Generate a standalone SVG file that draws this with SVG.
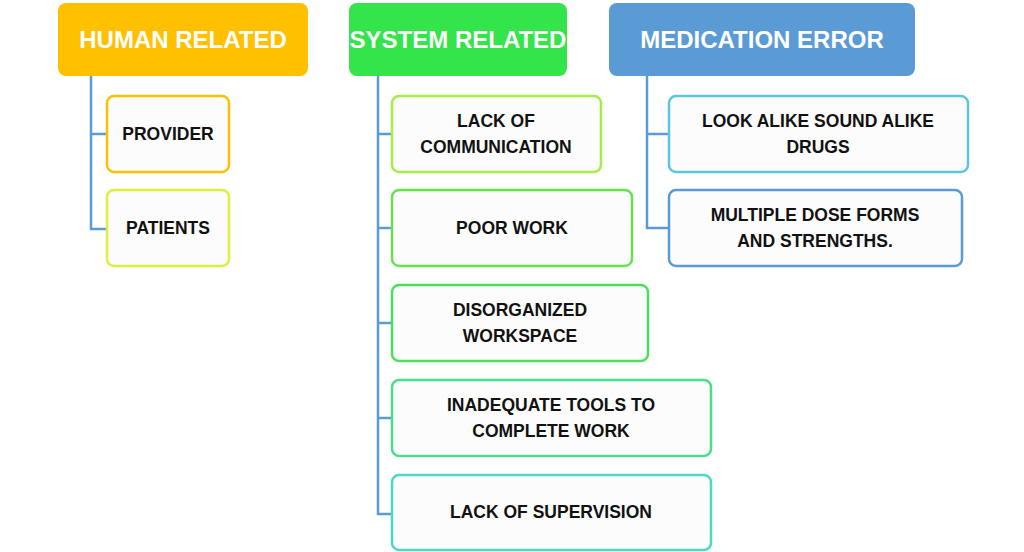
<svg xmlns="http://www.w3.org/2000/svg" width="1024" height="552" viewBox="0 0 1024 552">
<style>
.h{font-family:"Liberation Sans",Arial,sans-serif;font-weight:bold;font-size:24px;fill:#fff;text-anchor:middle}
.t{font-family:"Liberation Sans",Arial,sans-serif;font-weight:bold;font-size:17.5px;fill:#111;text-anchor:middle}
.b{fill:#fcfcfc;stroke-width:2.5}
.c{fill:none;stroke:#5B9BD5;stroke-width:2.5}
</style>
<rect width="1024" height="552" fill="#fff"/>
<g id="connectors">
<path class="c" d="M91 76V229H107M91 134H107"/>
<path class="c" d="M378 76V514H392M378 134H392M378 228H392M378 323H392M378 418H392"/>
<path class="c" d="M647 76V228H669M647 134H669"/>
</g>
<g id="human"><rect x="58" y="3" width="250" height="73" rx="8" fill="#FFC000"/><text class="h" x="183" y="48">HUMAN RELATED</text></g>
<g id="provider"><rect class="b" x="107" y="96" width="122" height="76" rx="7" stroke="#FFC000"/><text class="t" x="168" y="140">PROVIDER</text></g>
<g id="patients"><rect class="b" x="107" y="190" width="122" height="76" rx="7" stroke="#DDF03C"/><text class="t" x="168" y="234">PATIENTS</text></g>
<g id="system"><rect x="349" y="3" width="218" height="73" rx="8" fill="#33E44A"/><text class="h" x="458" y="48">SYSTEM RELATED</text></g>
<g id="lackcomm"><rect class="b" x="392" y="96" width="209" height="76" rx="7" stroke="#A6EC4A"/><text class="t" x="496" y="127">LACK OF</text><text class="t" x="496" y="153">COMMUNICATION</text></g>
<g id="poorwork"><rect class="b" x="392" y="190" width="240" height="76" rx="7" stroke="#66E34A"/><text class="t" x="512" y="234">POOR WORK</text></g>
<g id="disorg"><rect class="b" x="392" y="285" width="256" height="76" rx="7" stroke="#4AE05A"/><text class="t" x="520" y="316">DISORGANIZED</text><text class="t" x="520" y="342">WORKSPACE</text></g>
<g id="tools"><rect class="b" x="392" y="380" width="319" height="76" rx="7" stroke="#4ADB8C"/><text class="t" x="551" y="411">INADEQUATE TOOLS TO</text><text class="t" x="551" y="437">COMPLETE WORK</text></g>
<g id="supervision"><rect class="b" x="392" y="475" width="319" height="75" rx="7" stroke="#4DD8C4"/><text class="t" x="551" y="518">LACK OF SUPERVISION</text></g>
<g id="medication"><rect x="609" y="3" width="306" height="73" rx="8" fill="#5B9BD5"/><text class="h" x="762" y="48">MEDICATION ERROR</text></g>
<g id="lookalike"><rect class="b" x="669" y="96" width="299" height="76" rx="7" stroke="#5BC6DC"/><text class="t" x="818" y="127">LOOK ALIKE SOUND ALIKE</text><text class="t" x="818" y="153">DRUGS</text></g>
<g id="multiple"><rect class="b" x="669" y="190" width="293" height="76" rx="7" stroke="#5B9BD5"/><text class="t" x="815" y="221">MULTIPLE DOSE FORMS</text><text class="t" x="815" y="247">AND STRENGTHS.</text></g>
</svg>
